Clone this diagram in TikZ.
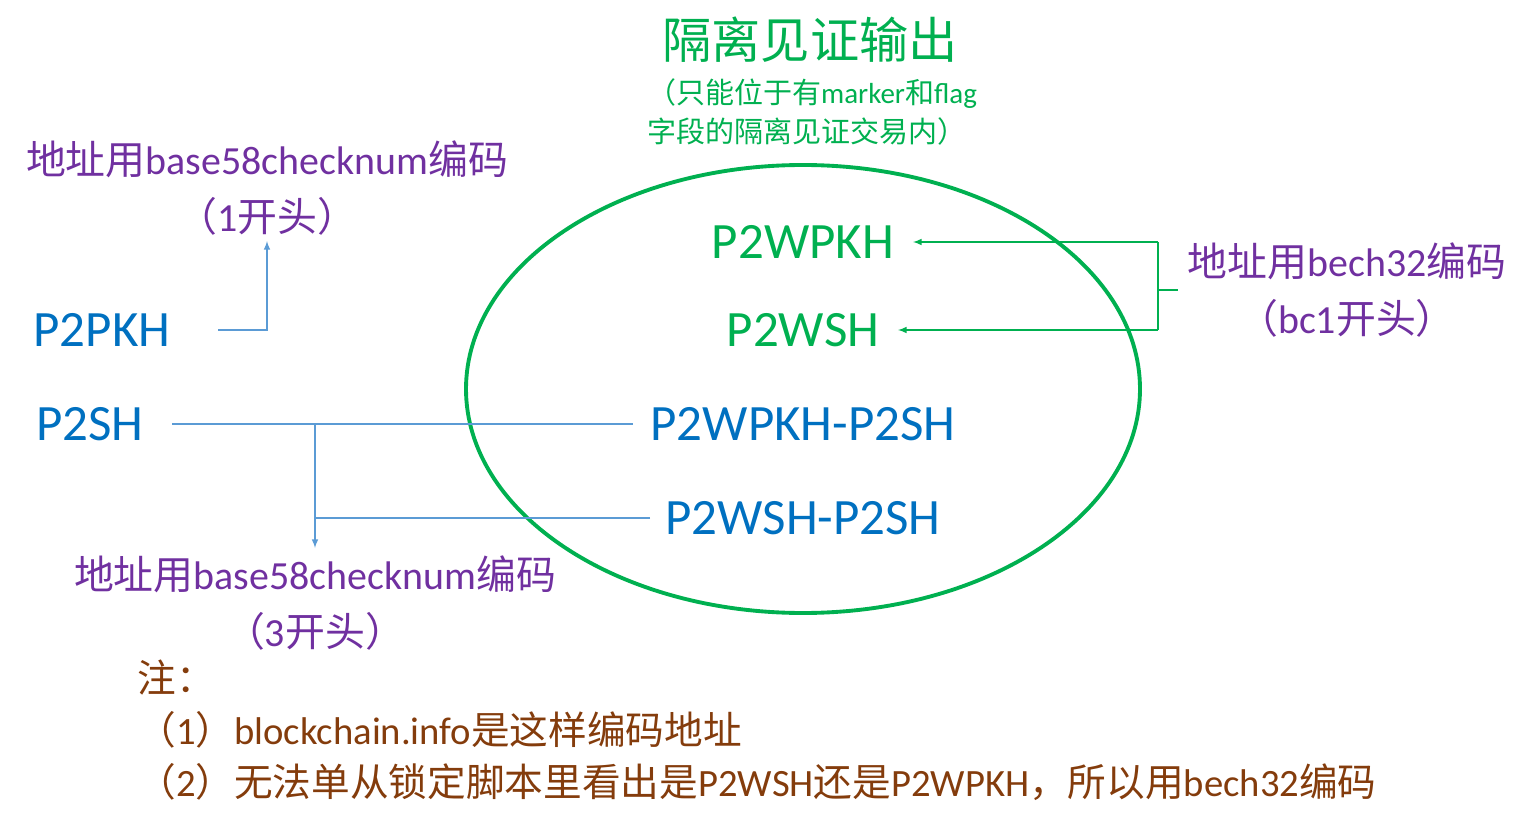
\documentclass[tikz,border=0pt]{standalone}
\usepackage{fontspec}
\setmainfont{Carlito}
\newfontfamily\cjk{Noto Sans CJK SC}
\newcommand\C[1]{{\cjk #1}}
\definecolor{gr}{HTML}{00B050}
\definecolor{bl}{HTML}{0070C0}
\definecolor{pu}{HTML}{7030A0}
\definecolor{br}{HTML}{843C0C}
\definecolor{ln}{HTML}{5B9BD5}
\begin{document}
\begin{tikzpicture}[x=0.2mm,y=-0.2mm,
  big/.style={font=\fontsize{29}{34}\selectfont},
  lab/.style={font=\fontsize{22.7}{32}\selectfont,text=pu,align=center},
  conn/.style={draw=ln,line width=0.7pt},
  gconn/.style={draw=gr,line width=0.7pt}]
\useasboundingbox (0,0) rectangle (1533,837);
\draw[gr,line width=2.2pt] (803,389) ellipse [x radius=337, y radius=-224];
\node[text=gr,font=\fontsize{28}{32}\selectfont] (title) at (810,40) {\C{隔离见证输出}};
\node[text=gr,font=\fontsize{16.5}{22}\selectfont,align=left] (note) at (812,112) {\C{（只能位于有}marker\C{和}flag\\\C{字段的隔离见证交易内）}};
\node[big,text=bl] (p2pkh) at (102,330) {P2PKH};
\node[big,text=bl] (p2sh) at (90,424) {P2SH};
\node[big,text=gr] (p2wpkh) at (803,242) {P2WPKH};
\node[big,text=gr] (p2wsh) at (803,330) {P2WSH};
\node[big,text=bl] (p2wpkhsh) at (803,424) {P2WPKH-P2SH};
\node[big,text=bl] (p2wshsh) at (803,518) {P2WSH-P2SH};
\node[lab] (l1) at (267,188) {\C{地址用}base58checknum\C{编码}\\\C{（}1\C{开头）}};
\node[lab] (l2) at (315,603) {\C{地址用}base58checknum\C{编码}\\\C{（}3\C{开头）}};
\node[lab] (l3) at (1347,290) {\C{地址用}bech32\C{编码}\\\C{（}bc1\C{开头）}};
\node[text=br,font=\fontsize{22}{29.5}\selectfont,align=left,anchor=north west,inner sep=0pt] (notes) at (137,660)
 {\C{注：}\\\C{（}1\C{）}blockchain.info\C{是这样编码地址}\\\C{（}2\C{）无法单从锁定脚本里看出是}P2WSH\C{还是}P2WPKH\C{，所以用}bech32\C{编码}};
\coordinate (a1) at (218,330); \coordinate (a2) at (267,330);
\draw[conn,-latex] (a1) -- (a2) -- (l1.south -| a2);
\coordinate (b1) at (172,424); \coordinate (b2) at (633,424);
\coordinate (b3) at (650,518); \coordinate (b4) at (315,518);
\coordinate (b5) at (315,424); \coordinate (b6) at (315,548);
\draw[conn] (b1) -- (b2);
\draw[conn] (b3) -- (b4);
\draw[conn,-latex] (b5) -- (b6);
\coordinate (g1) at (1158,242); \coordinate (g2) at (1158,330);
\coordinate (g3) at (1158,290); \coordinate (g4) at (1178,290);
\draw[gconn,-latex] (g1) -- (913,242);
\draw[gconn,-latex] (g2) -- (898,330);
\draw[gconn] (g1) -- (g2) (g3) -- (g4);
\end{tikzpicture}
\end{document}
